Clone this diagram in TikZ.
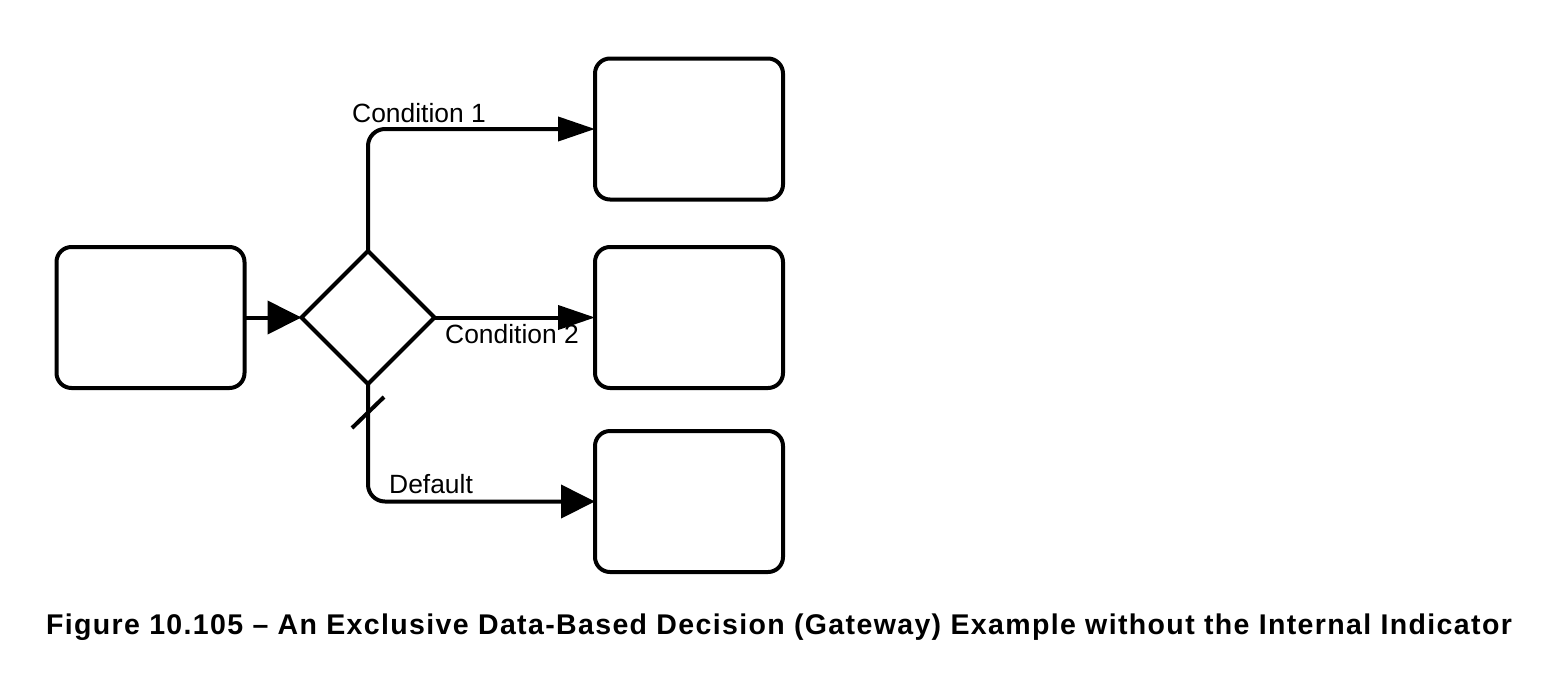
\documentclass[tikz,border=0pt]{standalone}
\usepackage{fontspec}
\setmainfont{Liberation Sans}
\newfontfamily\capfont[LetterSpace=4.8]{Liberation Sans}
\usetikzlibrary{shapes.geometric,arrows.meta}
\begin{document}
\begin{tikzpicture}[x=1pt,y=-1pt,
  task/.style={draw=black,line width=4pt,rounded corners=15pt,minimum width=188pt,minimum height=141pt,inner sep=0pt,outer sep=0pt},
  gate/.style={draw=black,line width=4pt,diamond,aspect=1,minimum width=133pt,minimum height=133pt,inner sep=0pt,outer sep=0pt},
  flow/.style={draw=black,line width=4pt,rounded corners=17pt},
  narrowtip/.style={-{Triangle[length=37pt,width=24pt]}},
  widetip/.style={-{Triangle[length=34pt,width=33pt]}},
  lbl/.style={font=\fontsize{26.4}{30}\selectfont,inner sep=0pt,anchor=base west},
  captext/.style={font=\capfont\bfseries\fontsize{28.5}{34}\selectfont,inner sep=0pt,anchor=base}]
\useasboundingbox (0,0) rectangle (1554,678);
\node[task] (t0) at (150.5,317.5) {};
\node[task] (t1) at (689,129) {};
\node[task] (t2) at (689,317.5) {};
\node[task] (t3) at (689,501.5) {};
\node[gate] (g) at (368,317.5) {};
\draw[flow,widetip] (t0.east) -- (g.west);
\draw[flow,narrowtip] (g.north) |- (t1.west);
\draw[flow,narrowtip] (g.east) -- (t2.west);
\draw[flow,widetip] (g.south) |- (t3.west);
\coordinate (s1) at (352,428);
\coordinate (s2) at (384,397);
\draw[line width=4pt] (s1) -- (s2);
\node[lbl] (l1) at (352,122) {Condition 1};
\node[lbl] (l2) at (445,343) {Condition 2};
\node[lbl] (l3) at (389,493) {Default};
\node[captext] (c) at (779,634) {Figure 10.105 – An Exclusive Data-Based Decision (Gateway) Example without the Internal Indicator};
\end{tikzpicture}
\end{document}
